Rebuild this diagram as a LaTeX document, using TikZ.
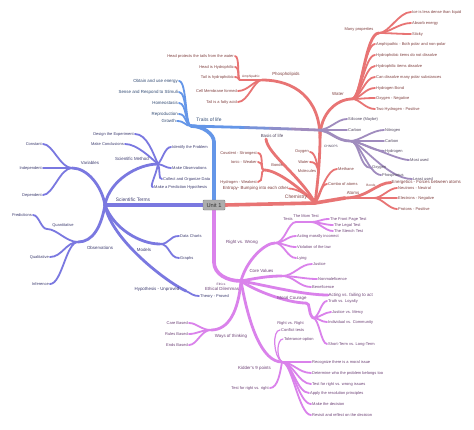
\documentclass[tikz,border=0pt]{standalone}
\usepackage{fontspec}
\setmainfont{Liberation Sans}
\pgfdeclarelayer{bg}
\pgfsetlayers{bg,main}
\definecolor{cT}{RGB}{100,150,232}
\definecolor{cS}{RGB}{122,120,224}
\definecolor{cR}{RGB}{232,116,116}
\definecolor{cP}{RGB}{160,140,190}
\definecolor{cE}{RGB}{218,130,235}
\tikzset{
 fontL/.style={font=\fontsize{4.0}{4.5}\selectfont, inner sep=1pt},
 fontB/.style={font=\fontsize{4.4}{5}\selectfont, inner sep=1pt},
 fontM/.style={font=\fontsize{4.4}{5}\selectfont, inner sep=0.5pt},
 fontT/.style={font=\fontsize{4.9}{5.5}\selectfont, inner sep=0.5pt},
 fontS/.style={font=\fontsize{3.2}{3.6}\selectfont, inner sep=0.5pt},
 txtT/.style={text=cT!50!black},
 txtS/.style={text=cS!50!black},
 txtR/.style={text=cR!55!black},
 txtP/.style={text=cP!50!black},
 txtE/.style={text=cE!50!black},
 lineA/.style={line width=3.6pt, line cap=round},
 lineB/.style={line width=2.8pt, line cap=round},
 lineC/.style={line width=1.8pt, line cap=round},
 lineD/.style={line width=1.2pt, line cap=round},
}
\begin{document}
\begin{tikzpicture}[x=1pt,y=1pt]
\begin{pgfonlayer}{bg}
\fill[white] (0,0) rectangle (474,-429);
\end{pgfonlayer}
\useasboundingbox (0,0) rectangle (474,-429);

% ---------------- centre
\node[draw=black!50, fill=black!32, rounded corners=1pt, minimum width=22pt, minimum height=10pt, inner sep=0.5pt, font=\fontsize{5.7}{6}\selectfont, text=black!80] (u) at (214,-205) {Unit 1};

% ---------------- hubs
\coordinate (vt) at (214,-142);
\coordinate (th) at (191,-126);
\coordinate (g1) at (245,-127.5);
\coordinate (g2) at (270,-128.3);
\coordinate (g3) at (292,-129);
\coordinate (bj) at (318,-130);
\coordinate (ch) at (315,-203);
\coordinate (rj) at (320,-138);
\coordinate (bl) at (266,-139);
\coordinate (ah0) at (345,-198);
\coordinate (ah) at (374,-198);
\coordinate (bh) at (264,-170);
\coordinate (molh) at (318.5,-174);
\coordinate (phh) at (262,-80);
\coordinate (amh) at (240,-80);
\coordinate (wh) at (352,-99);
\coordinate (mph) at (379,-33);
\coordinate (cnh) at (350,-141);
\coordinate (st) at (105,-205);
\coordinate (vh) at (72,-168);
\coordinate (smh) at (158,-164);
\coordinate (obh) at (78,-242);
\coordinate (qh) at (47,-229);
\coordinate (mh) at (160,-244);
\coordinate (hh) at (186,-291);
\coordinate (ev) at (214,-262);
\coordinate (eh) at (241,-281);
\coordinate (rwh) at (275,-243);
\coordinate (tsh) at (296,-222);
\coordinate (tfh) at (311,-222);
\coordinate (cvh) at (282,-276);
\coordinate (mch) at (306,-303);
\coordinate (rrh) at (313,-318);
\coordinate (kh) at (282,-362);
\coordinate (wth) at (211,-330);

% ---------------- Traits of life
\node[fontT,txtT] (traits) at (209,-119.5) {Traits of life};
\node[fontB,txtT,anchor=east] (tr1) at (179,-81) {Obtain and use energy};
\node[fontB,txtT,anchor=east] (tr2) at (179,-92) {Sense and Respond to Stimuli};
\node[fontB,txtT,anchor=east] (tr3) at (179,-103) {Homeostasis};
\node[fontB,txtT,anchor=east] (tr4) at (179,-114) {Reproduction};
\node[fontB,txtT,anchor=east] (tr5) at (177,-121) {Growth};

% ---------------- Chemistry
\node[fontM,txtP] (basis) at (272,-135.5) {Basis of life};
\node[fontT,txtR] (chem) at (296,-197) {Chemistry};
\node[fontM,txtR] (atoms) at (353,-193.5) {Atoms};
\node[fontL,txtR,anchor=west] (at1) at (397,-188) {Neutrons - Neutral};
\node[fontL,txtR,anchor=west] (at2) at (397,-198) {Electrons - Negative};
\node[fontL,txtR,anchor=west] (at3) at (397,-209) {Protons - Positive};
\node[fontM,txtR,anchor=west] (energ) at (391,-182.5) {Energetics - Forces between atoms};
\node[fontS,txtR] (bondsb) at (371,-185.5) {Bonds};
\node[fontL,txtR] (bonds) at (277,-165.5) {Bonds};
\node[fontL,txtR,anchor=east] (bo1) at (258,-153) {Covalent - Strongest};
\node[fontL,txtR,anchor=east] (bo2) at (258,-162) {Ionic - Weaker};
\node[fontL,txtR,anchor=east] (bo3) at (258,-182) {Hydrogen - Weakest};
\node[fontM,txtR,anchor=east] (entropy) at (289,-188.5) {Entropy- Bumping into each other};
\node[fontL,txtR] (molec) at (307,-171) {Molecules};
\node[fontL,txtR,anchor=east] (mol1) at (310,-152) {Oxygen};
\node[fontL,txtR,anchor=east] (mol2) at (310,-162) {Water};
\node[fontL,txtR,anchor=west] (methane) at (337,-169) {Methane};
\node[fontL,txtR,anchor=west] (combo) at (327,-184) {Combo of atoms};

% Phospholipids
\node[fontM,txtR] (phos) at (286,-74.5) {Phospholipids};
\node[fontS,txtR] (amph) at (251,-76.5) {Amphipathic};
\node[fontL,txtR,anchor=east] (ph1) at (235,-56) {Head protects the tails from the water};
\node[fontL,txtR,anchor=east] (ph2) at (235,-67) {Head is Hydrophilic};
\node[fontL,txtR,anchor=east] (ph3) at (235,-77) {Tail is hydrophobic};
\node[fontL,txtR,anchor=east] (ph4) at (238,-91) {Cell Membrane formed};
\node[fontL,txtR,anchor=east] (ph5) at (238,-102) {Tail is a fatty acid};

% Water
\node[fontM,txtR] (water) at (338,-94.5) {Water};
\node[fontL,txtR,anchor=west] (wa1) at (375,-44) {Amphipathic - Both polar and non-polar};
\node[fontL,txtR,anchor=west] (wa2) at (375,-55) {Hydrophobic items do not dissolve};
\node[fontL,txtR,anchor=west] (wa3) at (375,-66) {Hydrophilic items dissolve};
\node[fontL,txtR,anchor=west] (wa4) at (375,-77) {Can dissolve many polar substances};
\node[fontL,txtR,anchor=west] (wa5) at (375,-88) {Hydrogen Bond};
\node[fontL,txtR,anchor=west] (wa6) at (375,-98) {Oxygen - Negative};
\node[fontL,txtR,anchor=west] (wa7) at (375,-109) {Two Hydrogen - Positive};
\node[fontL,txtR] (manyp) at (359,-29) {Many properties};
\node[fontL,txtR,anchor=west] (mp1) at (411,-12) {Ice is less dense than liquid};
\node[fontL,txtR,anchor=west] (mp2) at (411,-23) {Absorb energy};
\node[fontL,txtR,anchor=west] (mp3) at (411,-34) {Sticky};

% CHNOPS
\node[fontL,txtP,anchor=west] (si) at (347,-119) {Silicone (Maybe)};
\node[fontL,txtP,anchor=west] (ca) at (347,-130) {Carbon};
\node[fontS,txtP] (chnops) at (331,-146) {CHNOPS};
\node[fontL,txtP,anchor=west] (cn1) at (384,-130) {Nitrogen};
\node[fontL,txtP,anchor=west] (cn2) at (384,-141) {Carbon};
\node[fontL,txtP,anchor=west] (cn3) at (384,-151) {Hydrogen};
\node[fontL,txtP,anchor=west] (cn4) at (409,-160) {Most used};
\node[fontL,txtP,anchor=west] (cn5) at (371,-168) {Oxygen};
\node[fontL,txtP,anchor=west] (cn6) at (381,-175) {Phosphorus};
\node[fontL,txtP,anchor=west] (cn7) at (412,-179) {Least used};

% ---------------- Scientific Terms
\node[fontT,txtS] (sciterms) at (133,-200) {Scientific Terms};
\node[fontM,txtS] (variables) at (90,-163) {Variables};
\node[fontL,txtS,anchor=east] (v1) at (43,-144) {Constant};
\node[fontL,txtS,anchor=east] (v2) at (43,-168) {Independent};
\node[fontL,txtS,anchor=east] (v3) at (43,-195) {Dependent};
\node[fontM,txtS] (scimeth) at (132,-159) {Scientific Method};
\node[fontL,txtS,anchor=east] (sm1) at (135,-134) {Design the Experiment};
\node[fontL,txtS,anchor=east] (sm2) at (125,-144) {Make Conclusions};
\node[fontL,txtS,anchor=west] (sm3) at (171,-147) {Identify the Problem};
\node[fontL,txtS,anchor=west] (sm4) at (171,-168) {Make Observations};
\node[fontL,txtS,anchor=west] (sm5) at (162,-179) {Collect and Organize Data};
\node[fontL,txtS,anchor=west] (sm6) at (153,-187) {Make a Prediction Hypothesis};
\node[fontM,txtS] (observ) at (100,-248) {Observations};
\node[fontL,txtS] (quant) at (63,-225) {Quantitative};
\node[fontL,txtS,anchor=east] (pred) at (33,-215) {Predictions};
\node[fontL,txtS,anchor=east] (qual) at (50,-257) {Qualitative};
\node[fontL,txtS,anchor=east] (infer) at (50,-284) {Inference};
\node[fontM,txtS] (models) at (144,-250) {Models};
\node[fontL,txtS,anchor=west] (md1) at (179,-236) {Data Charts};
\node[fontL,txtS,anchor=west] (md2) at (179,-258) {Graphs};
\node[fontM,txtS] (hypo) at (157,-289) {Hypothesis - Unproved};
\node[fontL,txtS,anchor=west] (theory) at (199,-296) {Theory - Proved};

% ---------------- Ethics
\node[fontM,txtE] (ethdil) at (222,-289) {Ethical Dilemmas};
\node[fontS,txtE] (ethics) at (221,-284.5) {Ethics};
\node[fontM,txtE] (rvw) at (242,-242) {Right vs. Wrong};
\node[fontL,txtE] (tests) at (288,-219) {Tests};
\node[fontL,txtE] (mom) at (306,-216) {The Mom Test};
\node[fontL,txtE,anchor=west] (tp1) at (329,-219) {The Front Page Test};
\node[fontL,txtE,anchor=west] (tp2) at (333,-225) {The Legal Test};
\node[fontL,txtE,anchor=west] (tp3) at (333,-231) {The Stench Test};
\node[fontL,txtE,anchor=west] (rw1) at (296,-236) {Acting morally incorrect};
\node[fontL,txtE,anchor=west] (rw2) at (296,-247) {Violation of the law};
\node[fontL,txtE,anchor=west] (rw3) at (296,-258) {Lying};
\node[fontM,txtE] (corev) at (261.5,-271) {Core Values};
\node[fontL,txtE,anchor=west] (cv1) at (312,-264) {Justice};
\node[fontL,txtE,anchor=west] (cv2) at (317,-279) {Nonmaleficence};
\node[fontL,txtE,anchor=west] (cv3) at (311,-287) {Beneficence};
\node[fontM,txtE,anchor=west] (act) at (328,-295) {Acting vs. failing to act};
\node[fontM,txtE] (moralc) at (292,-298) {Moral Courage};
\node[fontL,txtE] (rvr) at (290.5,-323) {Right vs. Right};
\node[fontL,txtE,anchor=west] (rr1) at (327,-301) {Truth vs. Loyalty};
\node[fontL,txtE,anchor=west] (rr2) at (331,-312) {Justice vs. Mercy};
\node[fontL,txtE,anchor=west] (rr3) at (327,-322) {Individual vs. Community};
\node[fontL,txtE,anchor=west] (rr4) at (327,-344) {Short-Term vs. Long-Term};
\node[fontM,txtE] (kidder) at (254.5,-368) {Kidder's 9 points};
\node[fontL,txtE,anchor=west] (k1) at (311,-362) {Recognize there is a moral issue};
\node[fontL,txtE,anchor=west] (k2) at (311,-373) {Determine who the problem belongs too};
\node[fontL,txtE,anchor=west] (k3) at (311,-384) {Test for right vs. wrong issues};
\node[fontL,txtE,anchor=west] (k4) at (309,-393) {Apply the resolution principles};
\node[fontL,txtE,anchor=west] (k5) at (311,-404) {Make the decision};
\node[fontL,txtE,anchor=west] (k6) at (311,-415) {Revisit and reflect on the decision};
\node[fontL,txtE,anchor=east] (k7) at (270,-388) {Test for right vs. right};
\node[fontL,txtE,anchor=west] (k8) at (280,-330) {Conflict tests};
\node[fontL,txtE,anchor=west] (k9) at (283,-339) {Tolerance option};
\node[fontM,txtE] (ways) at (231,-336) {Ways of thinking};
\node[fontL,txtE,anchor=east] (wt1) at (189,-323) {Care Based};
\node[fontL,txtE,anchor=east] (wt2) at (189,-334) {Rules Based};
\node[fontL,txtE,anchor=east] (wt3) at (189,-345) {Ends Based};

% ================= connectors
\begin{pgfonlayer}{bg}
% Traits
\draw[lineA,cT] (u.north) -- (vt);
\draw[lineA,cT] (vt) to[out=90,in=0,out distance=8,in distance=12] (th);
\draw[lineB,cT] (th) -- (g1);
\draw[lineB,cT!65!cP] (g1) -- (g2);
\draw[lineB,cT!30!cP] (g2) -- (g3);
\draw[lineB,cP] (g3) -- (bj);
\foreach \n in {tr1,tr2,tr3,tr4,tr5}
  \draw[lineC,cT] (\n.east) to[out=0,in=180,out distance=8,in distance=6] (th);

% Chemistry
\draw[lineA,cR] (u.east) -- (ch);
\draw[lineA,cR] (ch) -- (ah0);
\draw[lineB,cR] (ah0) -- (ah);
\foreach \n in {at1,at2,at3}
  \draw[lineC,cR] (ah) to[out=0,in=180,out distance=8,in distance=8] (\n.west);
\draw[lineB,cR] (ah0) to[out=0,in=180,out distance=22,in distance=14] (energ.west);
\draw[lineB,cR] (ch) to[out=135,in=0,out distance=18,in distance=14] (bh);
\foreach \n in {bo1,bo2,bo3}
  \draw[lineC,cR] (\n.east) to[out=0,in=180,out distance=6,in distance=4] (bh);
\draw[lineC,cR] (ch) to[out=125,in=0,out distance=8,in distance=8] (entropy.east);
\draw[lineB,cR] (ch) to[out=118,in=-85,out distance=30,in distance=15] (bl);
\draw[lineB,cR] (ch) to[out=82,in=-90,out distance=20,in distance=20] (rj);
\foreach \n in {mol1,mol2}
  \draw[lineC,cR] (\n.east) to[out=0,in=95,out distance=5,in distance=10] (molh);
\draw[lineC,cR] (ch) to[out=65,in=180,out distance=16,in distance=9] (methane.west);
\draw[lineC,cR] (ch) to[out=50,in=180,out distance=9,in distance=6] (combo.west);
% Phospholipids
\draw[lineB,cR] (rj) to[out=90,in=0,out distance=40,in distance=32] (phh);
\draw[lineC,cR] (amh) -- (phh);
\foreach \n in {ph1,ph2,ph3}
  \draw[lineC,cR] (\n.east) to[out=0,in=180,out distance=5,in distance=3] (amh);
\foreach \n in {ph4,ph5}
  \draw[lineC,cR] (\n.east) to[out=0,in=180,out distance=10,in distance=8] (phh);
% Water
\draw[lineB,cR] (rj) to[out=90,in=180,out distance=25,in distance=15] (wh);
\foreach \n in {wa1,wa2,wa3,wa4,wa5,wa6,wa7}
  \draw[lineC,cR] (wh) to[out=0,in=180,out distance=8,in distance=10] (\n.west);
\draw[lineB,cR] (wh) to[out=0,in=180,out distance=10,in distance=14] (mph);
\foreach \n in {mp1,mp2,mp3}
  \draw[lineC,cR] (mph) to[out=0,in=180,out distance=10,in distance=12] (\n.west);
% CHNOPS
\draw[lineC,cP] (bj) to[out=0,in=180,out distance=12,in distance=10] (si.west);
\draw[lineC,cP] (bj) -- (ca.west);
\draw[lineB,cP] (bj) to[out=0,in=180,out distance=12,in distance=14] (cnh);
\foreach \n in {cn1,cn2,cn3,cn4,cn5,cn6}
  \draw[lineC,cP] (cnh) to[out=0,in=180,out distance=10,in distance=12] (\n.west);
\draw[lineC,cP] (cnh) to[out=0,in=180,out distance=10,in distance=25] (cn7.west);

% Scientific Terms
\draw[lineA,cS] (u.west) -- (st);
\draw[lineB,cS] (st) to[out=100,in=0,out distance=20,in distance=15] (vh);
\foreach \n in {v1,v2,v3}
  \draw[lineC,cS] (\n.east) to[out=0,in=180,out distance=10,in distance=12] (vh);
\draw[lineB,cS] (st) to[out=80,in=180,out distance=25,in distance=20] (smh);
\draw[lineC,cS] (sm1.east) to[out=0,in=115,out distance=12,in distance=12] (smh);
\draw[lineC,cS] (sm2.east) to[out=0,in=140,out distance=12,in distance=10] (smh);
\draw[lineC,cS] (smh) to[out=45,in=180,out distance=6,in distance=6] (sm3.west);
\draw[lineC,cS] (smh) to[out=-10,in=180,out distance=6,in distance=5] (sm4.west);
\draw[lineC,cS] (smh) to[out=-70,in=180,out distance=8,in distance=4] (sm5.west);
\draw[lineC,cS] (smh) to[out=-100,in=180,out distance=12,in distance=4] (sm6.west);
\draw[lineB,cS] (st) to[out=-100,in=0,out distance=22,in distance=15] (obh);
\draw[lineC,cS] (qh) to[out=0,in=180,out distance=10,in distance=12] (obh);
\draw[lineC,cS] (pred.east) to[out=0,in=180,out distance=6,in distance=6] (qh);
\foreach \n in {qual,infer}
  \draw[lineC,cS] (\n.east) to[out=0,in=180,out distance=12,in distance=12] (obh);
\draw[lineB,cS] (st) to[out=-70,in=180,out distance=25,in distance=20] (mh);
\foreach \n in {md1,md2}
  \draw[lineC,cS] (mh) to[out=0,in=180,out distance=10,in distance=10] (\n.west);
\draw[lineB,cS] (st) to[out=-80,in=155,out distance=35,in distance=22] (hh);
\draw[lineC,cS] (hh) to[out=-25,in=180,out distance=6,in distance=6] (theory.west);

% Ethics
\draw[lineA,cE] (u.south) -- (ev);
\draw[lineA,cE] (ev) to[out=-90,in=180,out distance=12,in distance=14] (eh);
\draw[lineB,cE] (eh) to[out=75,in=180,out distance=22,in distance=10] (rwh);
\draw[lineC,cE] (rwh) to[out=0,in=180,out distance=10,in distance=8] (tsh);
\draw[lineC,cE] (tsh) -- (tfh);
\foreach \n in {tp1,tp2,tp3}
  \draw[lineC,cE] (tfh) to[out=0,in=180,out distance=8,in distance=8] (\n.west);
\foreach \n in {rw1,rw2,rw3}
  \draw[lineC,cE] (rwh) to[out=0,in=180,out distance=9,in distance=9] (\n.west);
\draw[lineB,cE] (eh) to[out=10,in=180,out distance=15,in distance=15] (cvh);
\foreach \n in {cv1,cv2,cv3}
  \draw[lineC,cE] (cvh) to[out=0,in=180,out distance=12,in distance=12] (\n.west);
\draw[lineB,cE] (eh) to[out=-10,in=180,out distance=25,in distance=25] (act.west);
\draw[lineB,cE] (eh) to[out=-35,in=180,out distance=18,in distance=18] (mch);
\draw[lineB,cE] (mch) to[out=0,in=135,out distance=5,in distance=8] (rrh);
\foreach \n in {rr1,rr2,rr3,rr4}
  \draw[lineC,cE] (rrh) to[out=0,in=180,out distance=6,in distance=6] (\n.west);
\draw[lineB,cE] (eh) to[out=-80,in=180,out distance=45,in distance=20] (kh);
\foreach \n in {k1,k2,k3,k4,k5,k6}
  \draw[lineC,cE] (kh) to[out=0,in=180,out distance=10,in distance=12] (\n.west);
\draw[lineC,cE] (kh) to[out=-100,in=0,out distance=10,in distance=8] (k7.east);
\draw[lineD,cE] (kh) to[out=150,in=180,out distance=10,in distance=8] (k8.west);
\draw[lineD,cE] (kh) to[out=140,in=180,out distance=8,in distance=6] (k9.west);
\draw[lineB,cE] (eh) to[out=-95,in=0,out distance=30,in distance=18] (wth);
\foreach \n in {wt1,wt2,wt3}
  \draw[lineC,cE] (\n.east) to[out=0,in=180,out distance=8,in distance=10] (wth);
\end{pgfonlayer}
\end{tikzpicture}
\end{document}
